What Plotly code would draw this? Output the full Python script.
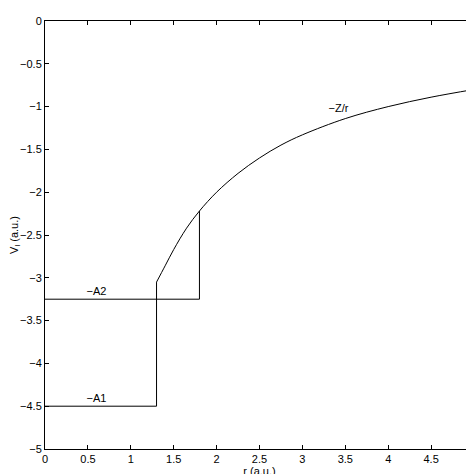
import plotly.graph_objects as go

# -Z/r curve
curve_r = [1.3, 1.4, 1.5, 1.65, 1.8, 2.0, 2.25, 2.5, 2.75, 3.0, 3.5, 4.0, 4.5, 5.0]
curve_v = [-3.05, -2.86, -2.67, -2.42, -2.22, -2.0, -1.78, -1.6, -1.45, -1.33, -1.14, -1.0, -0.89, -0.8]

# step potentials
a1_r = [0, 1.3, 1.3]
a1_v = [-4.5, -4.5, -3.05]
a2_r = [0, 1.8, 1.8]
a2_v = [-3.25, -3.25, -2.22]

labels = ["\u2212A2", "\u2212A1", "\u2212Z/r"]
label_x = [0.6, 0.6, 3.42]
label_y = [-3.17, -4.42, -1.03]

fig = go.Figure()
line = dict(color="black", width=1)
fig.add_trace(go.Scatter(x=curve_r, y=curve_v, mode="lines", line=dict(color="black", width=1, shape="spline")))
fig.add_trace(go.Scatter(x=a1_r, y=a1_v, mode="lines", line=line))
fig.add_trace(go.Scatter(x=a2_r, y=a2_v, mode="lines", line=line))
fig.add_trace(go.Scatter(x=label_x, y=label_y, mode="text", text=labels,
                         textfont=dict(size=11, color="black", family="Liberation Sans")))

ax = dict(showgrid=False, zeroline=False, showline=True, mirror="allticks", linecolor="black",
          linewidth=1, ticks="inside", ticklen=4, tickcolor="black", automargin=False,
          tickfont=dict(size=11, color="black"))
fig.update_xaxes(range=[0, 5], dtick=0.5, title=dict(text="r (a.u.)", standoff=0, font=dict(size=11)), **ax)
fig.update_yaxes(range=[-5, 0], dtick=0.5, title=dict(text="V<sub>l</sub> (a.u.)", standoff=0, font=dict(size=11)), **ax)
fig.update_layout(width=474, height=474, showlegend=False, plot_bgcolor="white", paper_bgcolor="white",
                  font=dict(family="Liberation Sans", color="black"),
                  margin=dict(l=37, r=8, t=13, b=33), separators=".\u2212")
fig.write_html("out.html")
